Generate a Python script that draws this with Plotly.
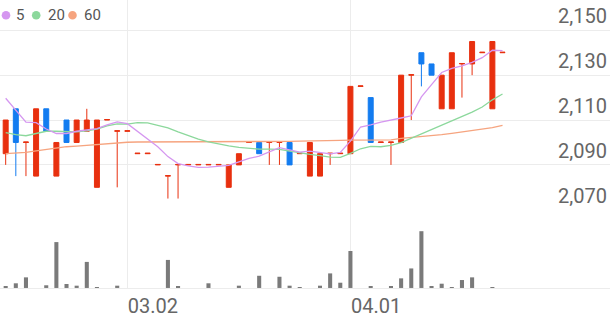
import plotly.graph_objects as go

# ---- data ----
idx = list(range(50))
opens = [2095, 2115, 2100, 2085, 2115, 2085, 2110, 2100, 2105, 2080,
         2110, 2105, 2105, 2095, 2095, 2090, 2085, 2090, 2090, 2090,
         2090, 2090, 2080, 2090, 2100, 2100, 2100, 2100, 2100, 2095,
         2085, 2085, 2095, 2095, 2095, 2125, 2120, 2100, 2100, 2100,
         2130, 2140, 2135, 2115, 2115, 2135, 2135, 2140, 2115, 2140]
closes = [2110, 2100, 2100.2, 2115, 2105, 2100, 2100, 2110, 2110, 2110,
          2110.2, 2105.2, 2105.2, 2095.2, 2095.2, 2090.2, 2085.2, 2090.2, 2090.2, 2090.2,
          2090.2, 2090.2, 2090, 2095, 2100.2, 2095, 2100.2, 2100.2, 2090, 2095.2,
          2100, 2095, 2095.2, 2095.2, 2125, 2125.2, 2100, 2100.2, 2100.2, 2130,
          2130.2, 2135, 2130, 2130, 2140, 2135.2, 2145, 2140.2, 2145, 2140.2]
highs = [2110, 2115, 2100.2, 2115, 2115, 2100, 2110, 2110, 2115, 2110,
         2110.2, 2105.2, 2105.2, 2095.2, 2095.2, 2090.2, 2085.2, 2090.2, 2090.2, 2090.2,
         2090.2, 2090.2, 2090, 2095, 2100.2, 2100, 2100.2, 2100.2, 2100, 2095.2,
         2100, 2095, 2095.2, 2095.2, 2125, 2125.2, 2120, 2100.2, 2100.2, 2130,
         2130.2, 2140, 2135, 2130, 2140, 2135.2, 2145, 2140.2, 2145, 2140.2]
lows = [2090, 2085, 2085, 2085, 2105, 2085, 2100, 2100, 2105, 2080,
        2110, 2080, 2105, 2095, 2095, 2090, 2075, 2075, 2090, 2090,
        2090, 2090, 2080, 2090, 2100, 2095, 2090, 2090, 2090, 2095,
        2085, 2085, 2090, 2095, 2095, 2125, 2100, 2100, 2090, 2100,
        2110, 2125, 2130, 2115, 2115, 2120, 2130, 2140, 2115, 2140]

ma5 = [2119.7, 2114.6, 2109.1, 2108.8, 2106.0, 2104.0, 2104.0, 2105.0, 2105.5, 2106.2,
       2107.8, 2109.2, 2108.4, 2105.0, 2101.8, 2098.1, 2093.7, 2090.6, 2089.6, 2088.9,
       2089.0, 2089.5, 2089.8, 2091.3, 2092.9, 2093.9, 2095.7, 2097.7, 2096.7, 2095.7,
       2096.1, 2095.4, 2094.9, 2095.6, 2100.6, 2106.9, 2107.8, 2109.1, 2109.9, 2110.9,
       2111.9, 2120.3, 2125.8, 2131.2, 2133.0, 2134.1, 2135.7, 2137.8, 2141.1, 2140.9]
ma20 = [2104.4, 2103.5, 2103.0, 2104.0, 2105.0, 2105.0, 2104.7, 2104.7, 2105.2, 2105.9,
        2107.4, 2108.3, 2108.2, 2108.8, 2108.7, 2107.6, 2106.5, 2104.7, 2103.0, 2101.5,
        2100.3, 2099.3, 2098.5, 2097.8, 2097.4, 2097.0, 2097.0, 2096.9, 2096.2, 2095.3,
        2094.7, 2094.1, 2093.5, 2093.4, 2095.1, 2097.2, 2098.3, 2098.1, 2098.7, 2099.9,
        2101.8, 2103.7, 2105.9, 2107.8, 2109.7, 2111.6, 2113.5, 2115.8, 2119.0, 2121.6]
ma60 = [2095.0, 2095.2, 2095.6, 2096.3, 2096.9, 2097.7, 2098.1, 2098.4, 2098.8, 2099.1,
        2099.4, 2099.9, 2100.1, 2100.2, 2100.2, 2100.3, 2100.3, 2100.3, 2100.4, 2100.4,
        2100.4, 2100.4, 2100.4, 2100.5, 2100.4, 2100.4, 2100.5, 2100.5, 2100.5, 2100.6,
        2100.6, 2100.7, 2100.8, 2100.9, 2101.0, 2101.0, 2101.1, 2101.1, 2101.2, 2101.8,
        2102.2, 2102.5, 2103.0, 2103.5, 2104.1, 2104.7, 2105.2, 2105.7, 2106.6, 2107.6]

volume = [1.3, 4.7, 10.7, 0, 2.7, 46.3, 4.0, 2.3, 26.3, 0.7,
          0, 2.3, 0, 0, 0, 0, 28.3, 1.3, 0, 0,
          4.7, 0, 0, 2.3, 0, 12.3, 0, 11.3, 2.3, 0.7,
          0, 2.3, 14.7, 5.3, 37.3, 0, 1.0, 0, 1.0, 9.7,
          19.7, 57.3, 1.0, 4.3, 0.7, 8.0, 10.7, 0, 0.7, 0]

price_ticks = [2070, 2090, 2110, 2130, 2150]
date_tickvals = [12, 34]
date_ticktext = ["03.02", "04.01"]

ma_names = ["5", "20", "60"]
ma_colors = ["#d597f0", "#8cd89c", "#f6a47f"]

RED = "#e8300f"
BLUE = "#137cf0"
GRID = "#ececec"
TXT = "#666666"

fig = go.Figure()

for name, vals, col in zip(ma_names, [ma60, ma20, ma5][::-1], ma_colors):
    pass

ma_series = {"5": ma5, "20": ma20, "60": ma60}
for name, col in zip(["60", "20", "5"], ["#f6a47f", "#8cd89c", "#d597f0"]):
    fig.add_trace(go.Scatter(x=idx, y=ma_series[name], mode="lines",
                             line=dict(color=col, width=1.3),
                             showlegend=False, hoverinfo="skip",
                             xaxis="x", yaxis="y"))

fig.add_trace(go.Candlestick(
    x=idx, open=opens, high=highs, low=lows, close=closes,
    increasing=dict(line=dict(color=RED, width=1), fillcolor=RED),
    decreasing=dict(line=dict(color=BLUE, width=1), fillcolor=BLUE),
    whiskerwidth=0, showlegend=False, xaxis="x", yaxis="y"))

fig.add_trace(go.Bar(x=idx, y=volume, width=0.4, marker=dict(color="#7a7a7a", line=dict(width=0)),
                     showlegend=False, xaxis="x2", yaxis="y2"))

W, H = 610, 318
xr = [-0.56, 59.6]

fig.update_layout(
    width=W, height=H,
    margin=dict(l=0, r=0, t=0, b=0),
    paper_bgcolor="white", plot_bgcolor="white",
    font=dict(family="Roboto", color=TXT),
    xaxis=dict(domain=[0, 1], anchor="y", range=xr, tickvals=date_tickvals,
               showticklabels=False, showgrid=True, gridcolor=GRID, gridwidth=1,
               zeroline=False, rangeslider=dict(visible=False), ticks=""),
    xaxis2=dict(domain=[0, 1], anchor="y2", range=xr, matches="x", tickvals=date_tickvals,
                ticktext=date_ticktext, ticklabelposition="outside right",
                showgrid=True, gridcolor=GRID, gridwidth=1, zeroline=False,
                showline=True, linecolor=GRID, linewidth=1, ticks="",
                tickfont=dict(size=20, color=TXT)),
    yaxis=dict(domain=[1 - 212 / H, 1], anchor="x", range=[2069.9, 2163.5], side="right",
               tickvals=price_ticks, tickformat=",d", ticklabelposition="inside top",
               showgrid=True, gridcolor=GRID, gridwidth=1, zeroline=False, ticks="",
               tickfont=dict(size=20, color=TXT)),
    yaxis2=dict(domain=[1 - 290.7 / H, 1 - 212 / H], anchor="x2", range=[0, 78.7],
                showticklabels=False, showgrid=False, zeroline=False, ticks=""),
    hovermode=False,
)

# legend drawn as dots + labels
dot_cx = [6, 36.2, 72.5]
lab_x = [14, 45.5, 82]
cy = 15.3
r = 4.3
for name, col, cx, lx in zip(ma_names, ma_colors, dot_cx, lab_x):
    fig.add_shape(type="circle", xref="paper", yref="paper",
                  x0=(cx - r) / W, x1=(cx + r) / W, y0=1 - (cy + r) / H, y1=1 - (cy - r) / H,
                  fillcolor=col, line=dict(width=0))
    fig.add_annotation(x=lx / W, y=1 - cy / H, xref="paper", yref="paper", text=name,
                       showarrow=False, xanchor="left", yanchor="middle",
                       font=dict(size=15, color="#555555", family="Roboto"))

fig.write_html("out.html")
